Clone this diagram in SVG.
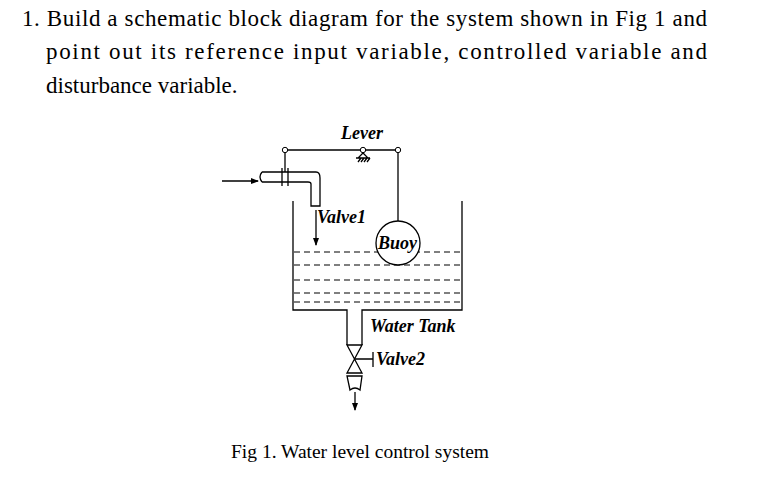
<svg xmlns="http://www.w3.org/2000/svg" width="768" height="480" viewBox="0 0 768 480">
<style>
.t{font-family:"Liberation Serif",serif;font-size:23px;fill:#000}
.l{font-family:"Liberation Serif",serif;font-size:18px;font-weight:bold;font-style:italic;fill:#000}
.s{stroke:#000;stroke-width:1.3;fill:none}
.d{stroke:#000;stroke-width:1.1;stroke-dasharray:6,4;fill:none}
</style>
<defs><marker id="a" markerWidth="8" markerHeight="8" refX="7" refY="4" orient="auto" markerUnits="userSpaceOnUse"><path d="M0,1 L8,4 L0,7z" fill="#000"/></marker></defs>
<rect width="768" height="480" fill="#fff"/>
<text class="t" x="22" y="26" textLength="685" lengthAdjust="spacing">1. Build a schematic block diagram for the system shown in Fig 1 and</text>
<text class="t" x="46" y="59" textLength="661" lengthAdjust="spacing">point out its reference input variable, controlled variable and</text>
<text class="t" x="46" y="93">disturbance variable.</text>
<g id="lever">
<line class="s" x1="285" y1="150" x2="398" y2="150"/>
<circle cx="285" cy="150" r="2.7" fill="#fff" stroke="#000"/>
<circle cx="363" cy="150" r="2.7" fill="#fff" stroke="#000"/>
<circle cx="398" cy="150" r="2.7" fill="#fff" stroke="#000"/>
<path class="s" d="M363,153 L358,158 L368,158 Z M356,158 h14 M358,162 l3,-4 M361,162 l3,-4 M364,162 l3,-4 M367,162 l3,-4"/>
<line class="s" x1="285" y1="153" x2="285" y2="172"/>
<line class="s" x1="398" y1="153" x2="398" y2="221"/>
<text class="l" x="341" y="139">Lever</text>
</g>
<g id="pipe">
<path class="s" d="M262,172 H316 Q320,172 320,178 V206 H311 V184 Q311,182 308,182 H262"/>
<path class="s" d="M262,172 Q258,177 262,182"/>
<path class="s" d="M282,168 V186 M288,168 V186"/>
<line class="s" x1="222" y1="181" x2="258" y2="181" marker-end="url(#a)"/>
</g>
<g id="valve1">
<line class="s" x1="316" y1="210" x2="316" y2="245" marker-end="url(#a)"/>
<text class="l" x="317" y="223">Valve1</text>
</g>
<g id="tank">
<path class="s" stroke-width="1.6" d="M293,201 V310 H347 V345 M362,345 V310 H462 V201"/>
<line class="d" x1="294" y1="252" x2="462" y2="252"/>
<line class="d" x1="294" y1="265" x2="462" y2="265"/>
<line class="d" x1="294" y1="280" x2="462" y2="280"/>
<line class="d" x1="294" y1="293" x2="462" y2="293"/>
<line class="d" x1="294" y1="302" x2="462" y2="302"/>
<text class="l" x="370" y="332">Water Tank</text>
</g>
<g id="buoy">
<circle cx="398" cy="243" r="22" fill="#fff" stroke="#000" stroke-width="1.3"/>
<text class="l" x="378" y="249">Buoy</text>
</g>
<g id="valve2">
<path class="s" d="M347,345 L362,373 L347,373 L362,345 Z"/>
<path class="s" d="M355,359 H373 M373,352 V367"/>
<path class="s" d="M347,376 H362 L360,390 Q355,386 350,390 Z"/>
<line class="s" x1="355" y1="392" x2="355" y2="410" marker-end="url(#a)"/>
<text class="l" x="376" y="365">Valve2</text>
</g>
<text x="231" y="458" font-family="Liberation Serif,serif" font-size="19.5">Fig 1. Water level control system</text>
</svg>
